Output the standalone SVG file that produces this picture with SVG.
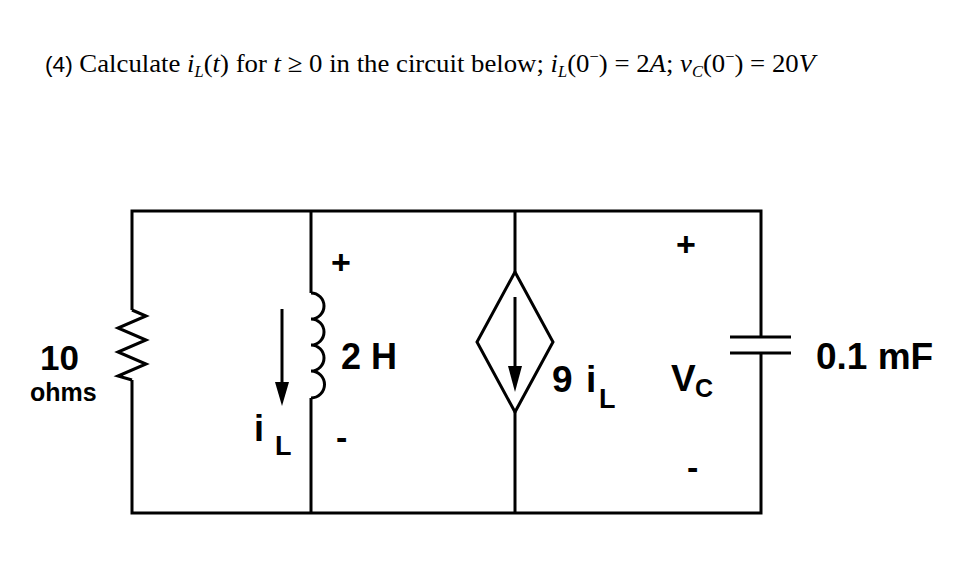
<svg xmlns="http://www.w3.org/2000/svg" width="960" height="586" viewBox="0 0 960 586">
<style>
.w{fill:none;stroke:#000;stroke-width:3;stroke-linejoin:miter}
.l{font-family:"Liberation Sans",Arial,sans-serif;font-weight:bold;fill:#000}
.t{font-family:"Liberation Serif","Times New Roman",serif;font-size:26px;fill:#000}
.m{font-style:italic}
</style>
<rect width="960" height="586" fill="#fff"/>
<text class="t" x="45" y="72" textLength="770" lengthAdjust="spacingAndGlyphs"><tspan font-family="Liberation Sans,sans-serif" font-size="22">(4)</tspan> Calculate <tspan class="m">i</tspan><tspan class="m" font-size="16" dy="5">L</tspan><tspan dy="-5">(</tspan><tspan class="m">t</tspan>)  for <tspan class="m">t</tspan> ≥ 0 in the circuit below; <tspan class="m">i</tspan><tspan class="m" font-size="16" dy="5">L</tspan><tspan dy="-5">(0</tspan><tspan font-size="16" dy="-10">−</tspan><tspan dy="10">) = 2</tspan><tspan class="m">A</tspan>; <tspan class="m">v</tspan><tspan class="m" font-size="16" dy="5">C</tspan><tspan dy="-5">(0</tspan><tspan font-size="16" dy="-10">−</tspan><tspan dy="10">) = 20</tspan><tspan class="m">V</tspan></text>
<g id="wires">
<polyline class="w" points="132,310 132,211 761,211 761,337"/>
<polyline class="w" points="132,380 132,513 761,513 761,353"/>
<line class="w" x1="311" y1="211" x2="311" y2="293"/>
<line class="w" x1="311" y1="398" x2="311" y2="513"/>
<line class="w" x1="515" y1="211" x2="515" y2="272"/>
<line class="w" x1="515" y1="412" x2="515" y2="513"/>
</g>
<g id="resistor"><polyline class="w" points="132,310 146,316 118,328 146,340 118,352 146,364 118,376 132,380"/>
<text class="l" x="40" y="370" font-size="35">10</text><text class="l" x="30" y="401" font-size="25">ohms</text></g>
<g id="inductor"><path class="w" d="M311,293 a13,13 0 0 1 0,26 a13,13 0 0 1 0,26 a13,13 0 0 1 0,26 a13,13 0 0 1 0,27"/>
<line class="w" x1="282" y1="309" x2="282" y2="385"/><polygon points="275,382 289,382 282,406"/>
<text class="l" x="341" y="369" font-size="36">2 H</text>
<text class="l" x="331" y="274" font-size="34">+</text><text class="l" x="336" y="449" font-size="34">-</text>
<text class="l" x="254" y="441" font-size="36">i</text><text class="l" x="275" y="455" font-size="27">L</text></g>
<g id="source"><polygon class="w" points="515,272 553,342 515,412 477,342"/>
<line class="w" x1="515" y1="297" x2="515" y2="370"/><polygon points="508,366 522,366 515,392"/>
<text class="l" x="552" y="392" font-size="37">9</text><text class="l" x="586" y="392" font-size="37">i</text><text class="l" x="599" y="408" font-size="27">L</text></g>
<g id="capacitor"><line class="w" x1="730" y1="337" x2="791" y2="337"/><line class="w" x1="730" y1="353" x2="791" y2="353"/>
<text class="l" x="676" y="256" font-size="34">+</text><text class="l" x="687" y="479" font-size="34">-</text>
<text class="l" x="671" y="391" font-size="37">V</text><text class="l" x="695" y="397" font-size="25">C</text>
<text class="l" x="816" y="369" font-size="37">0.1 mF</text></g>
</svg>
